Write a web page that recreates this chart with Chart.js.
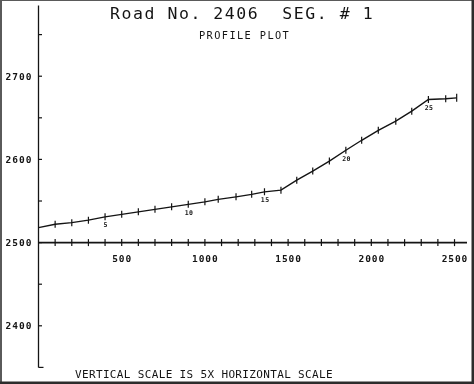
<!DOCTYPE html>
<html>
<head>
<meta charset="utf-8">
<script src="https://cdn.jsdelivr.net/npm/chart.js@4/dist/chart.umd.min.js"></script>
<style>
  html, body { margin: 0; padding: 0; background: #fff; }
  #c { display: block; }
</style>
</head>
<body>
<canvas id="c" width="474" height="384"></canvas>
<script>
// ---- data ----
const stations   = [0, 100, 200, 300, 400, 500, 600, 700, 800, 900, 1000, 1080, 1187, 1281, 1358, 1457, 1552, 1648, 1748, 1847, 1942, 2042, 2147, 2243, 2343, 2447, 2513];
const elevations = [2518, 2522, 2524, 2527, 2531, 2534, 2537, 2540, 2543, 2546, 2549, 2552, 2555, 2558, 2561, 2563, 2575, 2586, 2598, 2611, 2623, 2635, 2646, 2658, 2672, 2673, 2674];
const pointNumbers = ['5', '10', '15', '20', '25'];
const pointNumberIdx = [4, 9, 14, 19, 24];
const xTicks = [100, 200, 300, 400, 500, 600, 700, 800, 900, 1000, 1100, 1200, 1300, 1400, 1500, 1600, 1700, 1800, 1900, 2000, 2100, 2200, 2300, 2400, 2500];
const xTickLabels = [500, 1000, 1500, 2000, 2500];
const yTicks = [2350, 2400, 2450, 2500, 2550, 2600, 2650, 2700, 2750];
const yTickLabels = [2400, 2500, 2600, 2700];
const titleText = 'Road No. 2406  SEG. # 1';
const subtitleText = 'PROFILE PLOT';
const footText = 'VERTICAL SCALE IS 5X HORIZONTAL SCALE';

const INK = '#141414';
const MONO = '"DejaVu Sans Mono", "Liberation Mono", monospace';

function txt(ctx, s, x, y, font, spacing, align) {
  ctx.save();
  ctx.font = font;
  ctx.letterSpacing = spacing + 'px';
  const w = ctx.measureText(s).width - spacing;
  let x0 = x;
  if (align === 'center') x0 = x - w / 2;
  else if (align === 'right') x0 = x - w;
  ctx.textAlign = 'left';
  ctx.textBaseline = 'alphabetic';
  ctx.fillStyle = INK;
  ctx.fillText(s, x0, y);
  ctx.restore();
}

const plotterPlugin = {
  id: 'plotter',
  beforeDatasetsDraw(chart) {
    const ctx = chart.ctx;
    const xs = chart.scales.x, ys = chart.scales.y;
    const ca = chart.chartArea;
    ctx.save();
    ctx.strokeStyle = INK;
    // vertical axis
    const ax = xs.getPixelForValue(0);
    ctx.lineWidth = 1.3;
    ctx.beginPath();
    ctx.moveTo(ax, ca.top);
    ctx.lineTo(ax, ys.getPixelForValue(2350));
    ctx.stroke();
    // y ticks pointing right
    ctx.lineWidth = 1.2;
    yTicks.forEach(v => {
      const py = ys.getPixelForValue(v);
      ctx.beginPath();
      ctx.moveTo(ax, py);
      ctx.lineTo(ax + (v === 2350 ? 5 : 3.5), py);
      ctx.stroke();
    });
    // horizontal axis at 2500
    const y0 = ys.getPixelForValue(2500);
    ctx.lineWidth = 1.6;
    ctx.beginPath();
    ctx.moveTo(ax, y0);
    ctx.lineTo(xs.getPixelForValue(xs.max), y0);
    ctx.stroke();
    // crosses on x axis
    ctx.lineWidth = 1.2;
    xTicks.forEach(v => {
      const px = xs.getPixelForValue(v);
      ctx.beginPath();
      ctx.moveTo(px, y0 - 3.5);
      ctx.lineTo(px, y0 + 3.5);
      ctx.stroke();
    });
    ctx.restore();

    // axis labels
    const yFont = 'bold 9.5px ' + MONO;
    yTickLabels.forEach(v => {
      txt(ctx, String(v), 31.5, ys.getPixelForValue(v) + 3.4, yFont, 1.0, 'right');
    });
    xTickLabels.forEach(v => {
      txt(ctx, String(v), xs.getPixelForValue(v), y0 + 19.5, yFont, 0.9, 'center');
    });

    // titles
    txt(ctx, titleText, 110, 19, '16.5px ' + MONO, 1.55, 'left');
    txt(ctx, subtitleText, 199, 39, '10.3px ' + MONO, 1.4, 'left');
    txt(ctx, footText, 75, 377.5, '11px ' + MONO, 0.35, 'left');
  },
  afterDatasetsDraw(chart) {
    const ctx = chart.ctx;
    const meta = chart.getDatasetMeta(0);
    pointNumberIdx.forEach((idx, i) => {
      const el = meta.data[idx];
      txt(ctx, pointNumbers[i], el.x + 0.5, el.y + 10.5, 'bold 6.5px ' + MONO, 0.4, 'center');
    });
    // scanned-sheet border
    ctx.save();
    ctx.fillStyle = '#5a5a5a';
    ctx.fillRect(0, 0, 2, 384);
    ctx.fillRect(0, 0, 474, 1);
    ctx.fillStyle = '#2c2c2c';
    ctx.fillRect(471.5, 0, 2.5, 384);
    ctx.fillRect(0, 381.5, 474, 2.5);
    ctx.restore();
  }
};

new Chart(document.getElementById('c'), {
  type: 'line',
  data: {
    datasets: [{
      data: stations.map((s, i) => ({ x: s, y: elevations[i] })),
      borderColor: INK,
      borderWidth: 1.4,
      tension: 0,
      fill: false,
      pointStyle: 'line',
      pointRotation: 90,
      pointRadius: stations.map((s, i) => i === 0 ? 0 : (i === stations.length - 1 ? 4 : 3.5)),
      pointBorderWidth: 1.2,
      pointBorderColor: INK,
      pointBackgroundColor: INK
    }]
  },
  options: {
    responsive: false,
    devicePixelRatio: 1,
    animation: false,
    events: [],
    layout: { padding: { left: 38.5, right: 7, top: 5.5, bottom: 16.6 } },
    plugins: { legend: { display: false }, tooltip: { enabled: false }, title: { display: false } },
    scales: {
      x: { type: 'linear', min: 0, max: 2575, display: false },
      y: { type: 'linear', min: 2350, max: 2785, display: false }
    }
  },
  plugins: [plotterPlugin]
});
</script>
</body>
</html>
